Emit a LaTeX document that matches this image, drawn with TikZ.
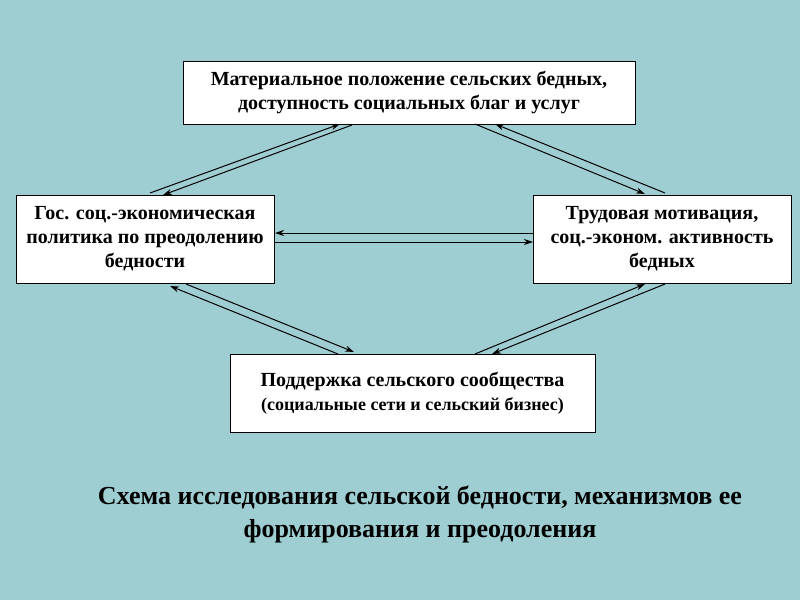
\documentclass[tikz,border=0pt]{standalone}
\usepackage{fontspec}
\setmainfont{Liberation Serif}
\usetikzlibrary{arrows.meta}
\definecolor{bg}{RGB}{158,206,210}
\begin{document}
\begin{tikzpicture}[x=1pt,y=-1pt,
  box/.style={draw=black,fill=white,line width=0.8pt,align=center,font=\bfseries\fontsize{20}{24}\selectfont,inner sep=0pt},
  arr/.style={line width=1pt,-{Stealth[length=9pt,width=6pt]}}]
\fill[bg] (0,0) rectangle (800,600);
\useasboundingbox (0,0) rectangle (800,600);
\node[box,minimum width=452,minimum height=63] (top) at (409,92.5) {Материальное положение  сельских бедных,\\доступность социальных благ и услуг};
\node[box,minimum width=258,minimum height=88] (left) at (145,239) {Гос.  соц.-экономическая\\политика по преодолению\\бедности};
\node[box,minimum width=258,minimum height=88] (right) at (662,239) {Трудовая мотивация,\\соц.-эконом. активность\\бедных};
\node[box,minimum width=365,minimum height=78] (bot) at (412.5,393) {Поддержка сельского сообщества\\{\fontsize{18}{24}\selectfont(социальные сети и сельский бизнес)}};
% top-left
\coordinate (a1) at (150,193); \coordinate (a2) at (340,124);
\coordinate (a3) at (163,195); \coordinate (a4) at (352,125);
\draw[arr] (a1) -- (a2);
\draw[arr] (a4) -- (a3);
% top-right
\coordinate (b1) at (475,124); \coordinate (b2) at (645,194);
\coordinate (b3) at (495,124); \coordinate (b4) at (665,193);
\draw[arr] (b1) -- (b2);
\draw[arr] (b4) -- (b3);
% middle
\coordinate (c1) at (533,233); \coordinate (c2) at (275,233);
\coordinate (c3) at (275,242); \coordinate (c4) at (533,242);
\draw[arr] (c1) -- (c2);
\draw[arr] (c3) -- (c4);
% bottom-left
\coordinate (d1) at (338,354); \coordinate (d2) at (170,286);
\coordinate (d3) at (186,284); \coordinate (d4) at (354,352);
\draw[arr] (d1) -- (d2);
\draw[arr] (d3) -- (d4);
% bottom-right
\coordinate (e1) at (475,354); \coordinate (e2) at (645,284);
\coordinate (e3) at (665,284); \coordinate (e4) at (492,354);
\draw[arr] (e1) -- (e2);
\draw[arr] (e3) -- (e4);
\node[align=center,font=\bfseries\fontsize{26}{33}\selectfont] (cap) at (420,514) {Схема исследования сельской бедности, механизмов ее\\формирования и преодоления};
\end{tikzpicture}
\end{document}
